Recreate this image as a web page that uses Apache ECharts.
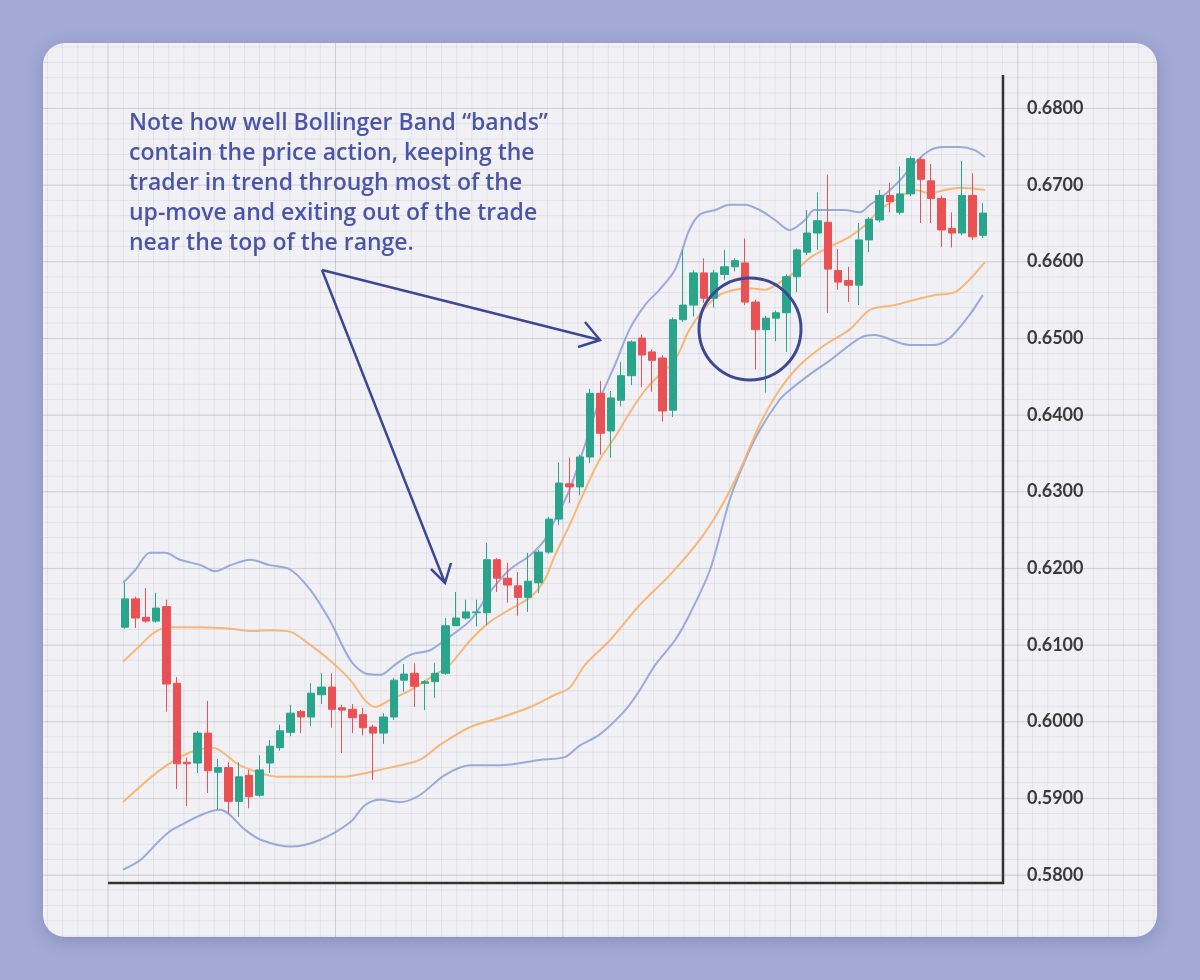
<!DOCTYPE html>
<html><head><meta charset="utf-8">
<script src="https://cdn.jsdelivr.net/npm/echarts@6/dist/echarts.min.js"></script>
<style>
html,body{margin:0;padding:0;width:1200px;height:980px;background:#a3aad6;overflow:hidden;}
#card{position:absolute;left:43px;top:43px;width:1114px;height:894px;border-radius:22px;background-color:#f1f1f5;
background-image:
linear-gradient(to right, rgba(150,150,170,0.28) 1px, transparent 1px),
linear-gradient(to bottom, rgba(150,150,170,0.28) 1px, transparent 1px),
linear-gradient(to right, rgba(140,140,160,0.16) 1px, transparent 1px),
linear-gradient(to bottom, rgba(140,140,160,0.16) 1px, transparent 1px);
background-size:227.5px 100%, 100% 76.7px, 15.17px 100%, 100% 15.34px;
background-position:64.5px 0, 0 65px, 4px 0, 0 3.6px;
box-shadow:0 4px 18px rgba(60,60,100,0.25);}
#chart{position:absolute;left:0;top:0;width:1200px;height:980px;}
</style></head><body>
<div id="card"></div>
<div id="chart"></div>
<script>
// OHLC: [open, close, low, high]
const candles = [
[.6123,.6160,.6121,.6181],[.6160,.6135,.6122,.6163],[.6136,.6131,.6129,.6174],[.6131,.6148,.6129,.6168],
[.6150,.6049,.6013,.6159],[.6050,.5945,.5912,.6058],[.5947,.5945,.5890,.5953],[.5946,.5985,.5933,.5988],
[.5985,.5936,.5907,.6027],[.5934,.5940,.5886,.5951],[.5940,.5896,.5880,.5947],[.5896,.5928,.5876,.5947],
[.5930,.5902,.5887,.5937],[.5904,.5937,.5902,.5956],[.5946,.5968,.5933,.5976],[.5966,.5988,.5962,.5996],
[.5986,.6011,.5981,.6022],[.6013,.6006,.5985,.6015],[.6006,.6037,.5994,.6050],[.6035,.6045,.6023,.6063],
[.6045,.6016,.5992,.6063],[.6018,.6015,.5959,.6022],[.6016,.6005,.5985,.6023],[.6009,.5992,.5982,.6018],
[.5993,.5985,.5924,.5996],[.5985,.6006,.5971,.6011],[.6006,.6054,.6002,.6057],[.6054,.6062,.6039,.6075],
[.6063,.6046,.6019,.6076],[.6050,.6052,.6015,.6054],[.6052,.6063,.6031,.6076],[.6063,.6125,.6061,.6135],
[.6125,.6135,.6130,.6169],[.6135,.6143,.6133,.6159],[.6142,.6143,.6124,.6159],[.6142,.6211,.6126,.6233],
[.6211,.6187,.6169,.6213],[.6187,.6178,.6155,.6207],[.6177,.6162,.6138,.6195],[.6162,.6183,.6143,.6220],
[.6181,.6221,.6168,.6224],[.6221,.6264,.6219,.6267],[.6264,.6311,.6256,.6338],[.6310,.6306,.6285,.6344],
[.6306,.6345,.6295,.6348],[.6345,.6428,.6337,.6434],[.6428,.6376,.6348,.6444],[.6379,.6422,.6344,.6431],
[.6419,.6451,.6411,.6469],[.6451,.6495,.6439,.6497],[.6500,.6478,.6436,.6505],[.6482,.6471,.6430,.6485],
[.6474,.6405,.6391,.6478],[.6406,.6524,.6397,.6527],[.6524,.6543,.6521,.6615],[.6543,.6585,.6528,.6589],
[.6585,.6552,.6546,.6604],[.6552,.6585,.6540,.6589],[.6583,.6593,.6576,.6615],[.6593,.6601,.6587,.6604],
[.6598,.6547,.6543,.6630],[.6547,.6511,.6459,.6550],[.6511,.6526,.6429,.6529],[.6526,.6533,.6496,.6536],
[.6533,.6580,.6482,.6583],[.6580,.6615,.6560,.6617],[.6612,.6637,.6608,.6667],[.6637,.6653,.6615,.6690],
[.6651,.6590,.6533,.6713],[.6588,.6573,.6563,.6616],[.6575,.6569,.6547,.6593],[.6569,.6628,.6543,.6650],
[.6628,.6655,.6612,.6658],[.6654,.6686,.6651,.6693],[.6686,.6678,.6664,.6702],[.6664,.6688,.6661,.6724],
[.6688,.6734,.6685,.6737],[.6733,.6707,.6650,.6736],[.6705,.6682,.6650,.6727],[.6682,.6641,.6619,.6686],
[.6643,.6637,.6618,.6664],[.6637,.6686,.6634,.6731],[.6686,.6632,.6628,.6715],[.6634,.6663,.6630,.6676]
];
const categories = candles.map((_, i) => 'D' + (i + 1));
const upperBlue = [[-0.2,.6181],[1.0,.6198],[2.4,.6220],[3.9,.6220],[5.3,.6211],[7.3,.6204],[8.7,.6196],[10.2,.6204],[12.1,.6211],[14.0,.6204],[16.0,.6198],[17.9,.6172],[19.8,.6132],[21.8,.6080],[23.2,.6063],[24.7,.6061],[26.1,.6074],[27.6,.6087],[29.5,.6093],[30.9,.6106],[33.4,.6132],[35.3,.6169],[37.2,.6198],[39.2,.6217],[40.6,.6237],[41.6,.6263],[43.0,.6302],[44.5,.6361],[45.9,.6419],[47.4,.6465],[48.8,.6511],[50.3,.6543],[51.7,.6563],[53.2,.6589],[54.6,.6641],[55.6,.6661],[57.1,.6667],[58.5,.6674],[60.0,.6674],[61.4,.6667],[62.9,.6654],[64.3,.6641],[65.8,.6654],[66.7,.6667],[69.6,.6667],[71.1,.6664],[72.1,.6674],[73.5,.6687],[75.0,.6706],[76.4,.6728],[77.9,.6745],[79.3,.6749],[80.8,.6749],[82.2,.6745],[83.2,.6736]];
const upperOrange = [[-0.2,.6078],[1.5,.6100],[2.9,.6117],[4.4,.6123],[7.3,.6123],[10.2,.6121],[12.1,.6118],[14.0,.6119],[16.0,.6117],[17.9,.6100],[19.8,.6080],[21.8,.6054],[23.2,.6028],[24.2,.6019],[25.6,.6028],[27.6,.6041],[29.5,.6057],[31.4,.6074],[33.4,.6106],[35.3,.6130],[37.2,.6146],[39.2,.6162],[40.6,.6185],[41.6,.6217],[43.0,.6256],[44.5,.6302],[45.9,.6341],[47.4,.6371],[48.8,.6402],[50.3,.6432],[51.7,.6452],[53.2,.6471],[54.6,.6511],[56.1,.6539],[57.5,.6556],[59.0,.6563],[60.4,.6565],[61.9,.6563],[63.3,.6572],[64.8,.6586],[66.2,.6604],[68.2,.6619],[70.1,.6632],[71.6,.6647],[73.0,.6667],[75.0,.6684],[76.4,.6693],[77.9,.6689],[79.3,.6693],[80.8,.6696],[83.2,.6693]];
const lowerOrange = [[-0.2,.5895],[3.4,.5937],[6.3,.5960],[8.5,.5966],[11.1,.5943],[15.0,.5928],[20.8,.5928],[25.6,.5940],[28.5,.5950],[30.5,.5970],[33.4,.5993],[36.3,.6005],[39.2,.6019],[41.6,.6035],[43.0,.6044],[44.5,.6074],[46.9,.6106],[49.8,.6152],[52.7,.6191],[55.6,.6237],[57.5,.6276],[59.5,.6328],[61.4,.6387],[63.3,.6432],[65.3,.6465],[67.7,.6491],[70.1,.6511],[72.1,.6537],[74.5,.6543],[76.4,.6550],[78.3,.6556],[80.3,.6560],[81.7,.6576],[83.2,.6599]];
const lowerBlue = [[-0.2,.5807],[1.5,.5820],[3.4,.5846],[4.8,.5861],[9.2,.5885],[11.6,.5859],[13.1,.5846],[16.0,.5837],[18.9,.5846],[21.8,.5869],[23.2,.5891],[24.7,.5898],[26.6,.5895],[28.5,.5904],[30.9,.5930],[33.4,.5943],[36.3,.5943],[40.1,.5950],[42.6,.5954],[44.0,.5969],[45.9,.5983],[48.4,.6015],[49.8,.6041],[51.3,.6074],[53.2,.6106],[54.6,.6139],[56.6,.6198],[58.5,.6289],[60.0,.6341],[61.4,.6380],[63.3,.6419],[64.3,.6432],[66.2,.6452],[68.2,.6471],[71.1,.6500],[72.5,.6504],[75.9,.6491],[78.3,.6491],[79.8,.6500],[81.7,.6530],[83.0,.6556]];
const noteLines = ['Note how well Bollinger Band \u201cbands\u201d','contain the price action, keeping the','trader in trend through most of the','up-move and exiting out of the trade','near the top of the range.'];

const chart = echarts.init(document.getElementById('chart'));
const navy = '#3d4794';
const lineS = (d, c) => ({type:'line', xAxisIndex:1, data:d, symbol:'none', smooth:0.3, lineStyle:{color:c, width:2, opacity:0.9}, z:1, silent:true});
const graphics = noteLines.map((t, i) => ({type:'text', left:129, top:112 + i*30, style:{text:t, fill:'#4a55a8', font:'600 23px "Open Sans"'}}));
graphics.push(
 {type:'line', shape:{x1:108,y1:883,x2:1004,y2:883}, style:{stroke:'#333',lineWidth:2.5}},
 {type:'line', shape:{x1:1003,y1:75,x2:1003,y2:884}, style:{stroke:'#333',lineWidth:2.5}},
 {type:'polyline', shape:{points:[[322,270],[600,340]]}, style:{stroke:navy,lineWidth:2.5,fill:null}},
 {type:'polyline', shape:{points:[[585,322],[600,340],[578,347]]}, style:{stroke:navy,lineWidth:2.5,fill:null}},
 {type:'polyline', shape:{points:[[322,270],[445,583]]}, style:{stroke:navy,lineWidth:2.5,fill:null}},
 {type:'polyline', shape:{points:[[431,569],[445,583],[451,563]]}, style:{stroke:navy,lineWidth:2.5,fill:null}},
 {type:'circle', shape:{cx:750,cy:329,r:51}, style:{stroke:navy,lineWidth:3,fill:null}, z:100}
);
chart.setOption({
 animation:false,
 grid:{left:120, right:212, top:108, bottom:105},
 xAxis:[
  {type:'category', data:categories, boundaryGap:true, axisLine:{show:false}, axisTick:{show:false}, axisLabel:{show:false}, splitLine:{show:false}},
  {type:'value', min:-0.5, max:83.5, show:false}
 ],
 yAxis:{type:'value', position:'right', offset:15, min:0.58, max:0.68, interval:0.01, axisLine:{show:false}, axisTick:{show:false},
  splitLine:{show:false},
  axisLabel:{margin:24, color:'#3a3a3a', fontFamily:'Lato', fontWeight:'bold', fontSize:18, formatter:v=>v.toFixed(4)}},
 series:[
  lineS(upperBlue,'#8ea3d8'), lineS(lowerBlue,'#8ea3d8'),
  lineS(upperOrange,'#f7b06c'), lineS(lowerOrange,'#f7b06c'),
  {type:'candlestick', data:candles, barWidth:8, z:5,
   itemStyle:{color:'#2aa58c', color0:'#ea5155', borderColor:'#2aa58c', borderColor0:'#ea5155', borderWidth:1}}
 ],
 graphic:graphics
});
</script></body></html>
